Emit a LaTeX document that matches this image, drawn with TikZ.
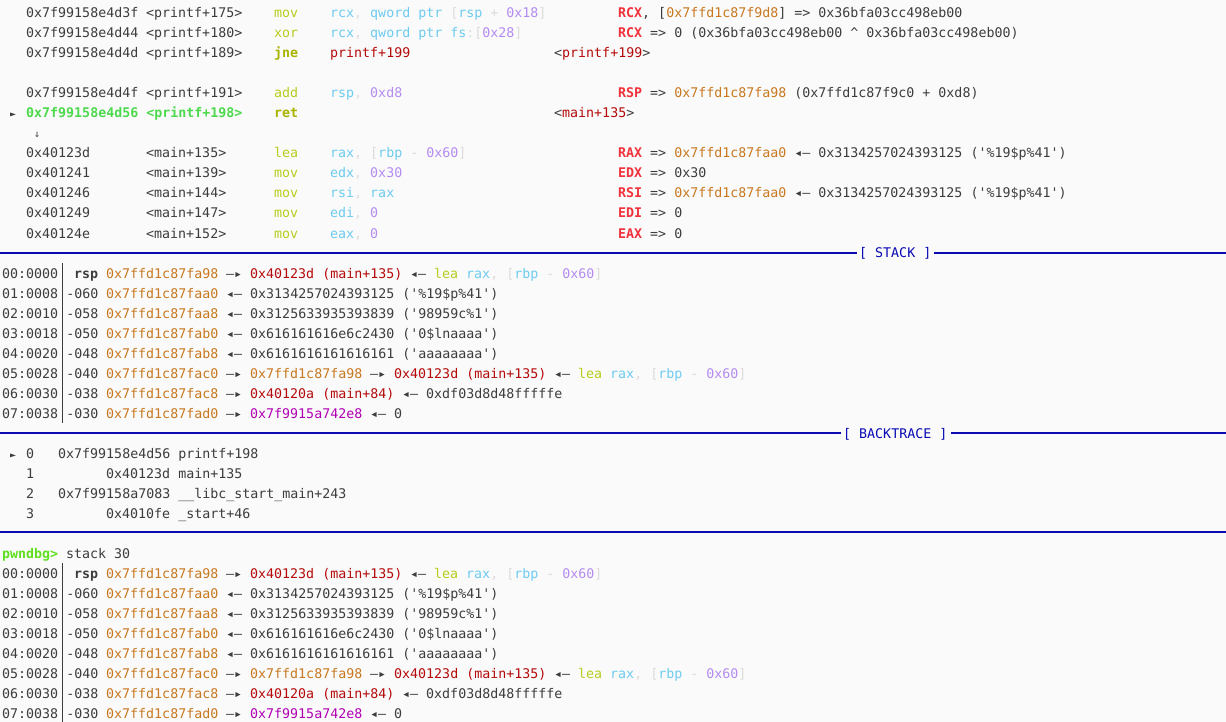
\documentclass[tikz,border=0pt]{standalone}
\usepackage{fontspec}
\setmonofont{DejaVu Sans Mono}
\definecolor{bg}{HTML}{FAFAFA}
\definecolor{fg}{HTML}{3C3C3C}
\definecolor{mn}{HTML}{B8CC1C}
\definecolor{mnd}{HTML}{A8B400}
\definecolor{rg}{HTML}{6CCBEF}
\definecolor{num}{HTML}{B48CF0}
\definecolor{pale}{HTML}{DCDCDC}
\definecolor{dred}{HTML}{B40A0A}
\definecolor{cur}{HTML}{4CD94C}
\definecolor{reg}{HTML}{F0323C}
\definecolor{org}{HTML}{C8781E}
\definecolor{mag}{HTML}{B000B4}
\definecolor{navy}{HTML}{0A0AB4}
\definecolor{prompt}{HTML}{5FE01E}
\newcommand\T[4]{\node[txt,text=#3] at ({2+8*(#1)},{#2+5}) {#4};}
\newcommand\pp[1]{\textcolor{pale}{#1}}
\newcommand\rr[1]{\textcolor{rg}{#1}}
\newcommand\nn[1]{\textcolor{num}{#1}}
\newcommand\RA{—▸}
\newcommand\LA{◂—}
\newcommand\stk[1]{%
  \draw[sep] (62,{#1-10}) -- (62,{#1+150});
  \T{0}{#1}{fg}{00:0000}\T{9}{#1}{fg}{\bfseries rsp}\T{13}{#1}{org}{0x7ffd1c87fa98}\T{28}{#1}{fg}{\RA}
  \T{31}{#1}{dred}{0x40123d (main+135)}\T{51}{#1}{fg}{\LA}
  \T{54}{#1}{mn}{lea \rr{rax}\pp{,}  \pp{[}\rr{rbp} \pp{-} \nn{0x60}\pp{]}}
  \T{0}{#1+20}{fg}{01:0008 -060}\T{13}{#1+20}{org}{0x7ffd1c87faa0}\T{28}{#1+20}{fg}{\LA\ 0x3134257024393125 ('\%19\$p\%41')}
  \T{0}{#1+40}{fg}{02:0010 -058}\T{13}{#1+40}{org}{0x7ffd1c87faa8}\T{28}{#1+40}{fg}{\LA\ 0x3125633935393839 ('98959c\%1')}
  \T{0}{#1+60}{fg}{03:0018 -050}\T{13}{#1+60}{org}{0x7ffd1c87fab0}\T{28}{#1+60}{fg}{\LA\ 0x616161616e6c2430 ('0\$lnaaaa')}
  \T{0}{#1+80}{fg}{04:0020 -048}\T{13}{#1+80}{org}{0x7ffd1c87fab8}\T{28}{#1+80}{fg}{\LA\ 0x6161616161616161 ('aaaaaaaa')}
  \T{0}{#1+100}{fg}{05:0028 -040}\T{13}{#1+100}{org}{0x7ffd1c87fac0}\T{28}{#1+100}{fg}{\RA}\T{31}{#1+100}{org}{0x7ffd1c87fa98}
  \T{46}{#1+100}{fg}{\RA}\T{49}{#1+100}{dred}{0x40123d (main+135)}\T{69}{#1+100}{fg}{\LA}
  \T{72}{#1+100}{mn}{lea \rr{rax}\pp{,}  \pp{[}\rr{rbp} \pp{-} \nn{0x60}\pp{]}}
  \T{0}{#1+120}{fg}{06:0030 -038}\T{13}{#1+120}{org}{0x7ffd1c87fac8}\T{28}{#1+120}{fg}{\RA}\T{31}{#1+120}{dred}{0x40120a (main+84)}\T{50}{#1+120}{fg}{\LA\ 0xdf03d8d48fffffe}
  \T{0}{#1+140}{fg}{07:0038 -030}\T{13}{#1+140}{org}{0x7ffd1c87fad0}\T{28}{#1+140}{fg}{\RA}\T{31}{#1+140}{mag}{0x7f9915a742e8}\T{46}{#1+140}{fg}{\LA\ 0}%
}
\begin{document}
\begin{tikzpicture}[x=1pt,y=-1pt,
  txt/.style={anchor=base west,inner sep=0pt,font=\ttfamily\fontsize{13.3}{16}\selectfont},
  sep/.style={draw=fg,line width=0.6pt},
  hline/.style={draw=navy,line width=1.2pt}]
\fill[bg] (0,0) rectangle (1226,722);
\useasboundingbox (0,0) rectangle (1226,722);
% disassembly
\T{3}{13}{fg}{0x7f99158e4d3f}\T{18}{13}{fg}{<printf+175>}\T{34}{13}{mn}{mov}
\T{41}{13}{rg}{rcx\pp{,} qword ptr \pp{[}rsp \pp{+} \nn{0x18}\pp{]}}
\T{77}{13}{fg}{\textcolor{reg}{\bfseries RCX}, [\textcolor{org}{0x7ffd1c87f9d8}] => 0x36bfa03cc498eb00}
\T{3}{33}{fg}{0x7f99158e4d44}\T{18}{33}{fg}{<printf+180>}\T{34}{33}{mn}{xor}
\T{41}{33}{rg}{rcx\pp{,} qword ptr fs\pp{:[}\nn{0x28}\pp{]}}
\T{77}{33}{fg}{\textcolor{reg}{\bfseries RCX} => 0 (0x36bfa03cc498eb00 \textasciicircum\ 0x36bfa03cc498eb00)}
\T{3}{53}{fg}{0x7f99158e4d4d}\T{18}{53}{fg}{<printf+189>}\T{34}{53}{mnd}{\bfseries jne}
\T{41}{53}{dred}{printf+199}\T{69}{53}{fg}{<\textcolor{dred}{printf+199}>}
\T{3}{93}{fg}{0x7f99158e4d4f}\T{18}{93}{fg}{<printf+191>}\T{34}{93}{mn}{add}
\T{41}{93}{rg}{rsp\pp{,} \nn{0xd8}}
\T{77}{93}{fg}{\textcolor{reg}{\bfseries RSP} => \textcolor{org}{0x7ffd1c87fa98} (0x7ffd1c87f9c0 + 0xd8)}
\T{1}{113}{fg}{\fontsize{10}{12}\selectfont ►}
\T{3}{113}{cur}{\bfseries 0x7f99158e4d56 <printf+198>}\T{34}{113}{mnd}{\bfseries ret}
\T{69}{113}{fg}{<\textcolor{dred}{main+135}>}
\T{4}{133}{fg}{\fontsize{10}{12}\selectfont ↓}
\T{3}{153}{fg}{0x40123d}\T{18}{153}{fg}{<main+135>}\T{34}{153}{mn}{lea}
\T{41}{153}{rg}{rax\pp{,} \pp{[}rbp \pp{-} \nn{0x60}\pp{]}}
\T{77}{153}{fg}{\textcolor{reg}{\bfseries RAX} => \textcolor{org}{0x7ffd1c87faa0} \LA\ 0x3134257024393125 ('\%19\$p\%41')}
\T{3}{173}{fg}{0x401241}\T{18}{173}{fg}{<main+139>}\T{34}{173}{mn}{mov}
\T{41}{173}{rg}{edx\pp{,} \nn{0x30}}
\T{77}{173}{fg}{\textcolor{reg}{\bfseries EDX} => 0x30}
\T{3}{193}{fg}{0x401246}\T{18}{193}{fg}{<main+144>}\T{34}{193}{mn}{mov}
\T{41}{193}{rg}{rsi\pp{,} rax}
\T{77}{193}{fg}{\textcolor{reg}{\bfseries RSI} => \textcolor{org}{0x7ffd1c87faa0} \LA\ 0x3134257024393125 ('\%19\$p\%41')}
\T{3}{213}{fg}{0x401249}\T{18}{213}{fg}{<main+147>}\T{34}{213}{mn}{mov}
\T{41}{213}{rg}{edi\pp{,} \nn{0}}
\T{77}{213}{fg}{\textcolor{reg}{\bfseries EDI} => 0}
\T{3}{233}{fg}{0x40124e}\T{18}{233}{fg}{<main+152>}\T{34}{233}{mn}{mov}
\T{41}{233}{rg}{eax\pp{,} \nn{0}}
\T{77}{233}{fg}{\textcolor{reg}{\bfseries EAX} => 0}
% stack header
\draw[hline] (0,253) -- (857,253);
\node[txt,text=navy] (stackhdr) at (859,258) {[ STACK ]};
\draw[hline] (stackhdr.east |- 0,253) ++(3,0) -- (1226,253);
\stk{273}
% backtrace header
\draw[hline] (0,433) -- (841,433);
\node[txt,text=navy] (bthdr) at (843,438) {[ BACKTRACE ]};
\draw[hline] (bthdr.east |- 0,433) ++(3,0) -- (1226,433);
\T{1}{453}{fg}{\fontsize{10}{12}\selectfont ►}
\T{3}{453}{fg}{0}\T{7}{453}{fg}{0x7f99158e4d56 printf+198}
\T{3}{473}{fg}{1}\T{13}{473}{fg}{0x40123d main+135}
\T{3}{493}{fg}{2}\T{7}{493}{fg}{0x7f99158a7083 \_\_libc\_start\_main+243}
\T{3}{513}{fg}{3}\T{13}{513}{fg}{0x4010fe \_start+46}
\draw[hline] (0,532) -- (1226,532);
\T{0}{553}{prompt}{\bfseries pwndbg>}\T{8}{553}{fg}{stack 30}
\stk{573}
\end{tikzpicture}
\end{document}
